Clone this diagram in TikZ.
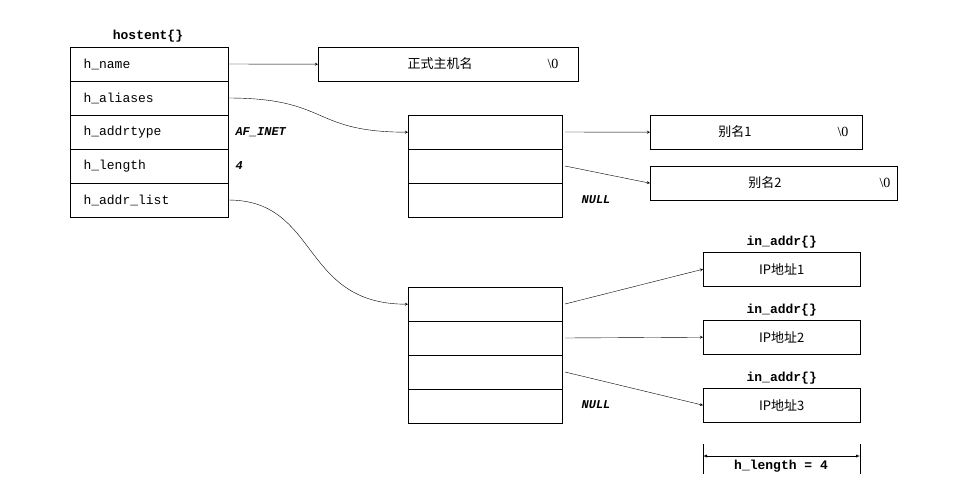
\documentclass[tikz,border=0pt]{standalone}
\usepackage{fontspec}
\setmainfont{Liberation Serif}
\setmonofont{Liberation Mono}
\newfontfamily\cjk{Noto Sans CJK SC}
\usetikzlibrary{calc,arrows}

\begin{document}
\begin{tikzpicture}[x=1pt,y=-1pt,>=stealth,
    field/.style={draw,rectangle,minimum width=158pt,minimum height=34pt,
        anchor=north west,inner sep=0pt},
    cell/.style={draw,rectangle,minimum width=154pt,minimum height=34pt,
        anchor=north west,inner sep=0pt},
    strbox/.style={draw,rectangle,minimum height=34pt,anchor=north west,inner sep=0pt},
    tt/.style={font=\ttfamily\fontsize{13}{13}\selectfont},
    ttb/.style={font=\ttfamily\bfseries\fontsize{13}{13}\selectfont},
    it/.style={font=\ttfamily\itshape\bfseries\fontsize{12}{12}\selectfont},
    cn/.style={font=\cjk\fontsize{13}{13}\selectfont}]

    \useasboundingbox (0,0) rectangle (958,496);

    % hostent structure
    \node[ttb] (Title) at (148,36) {hostent\{\}};
    \foreach \name [count=\i from 0] in {Name,Alias,Type,Len,List}
      \node[field] (\name) at (70,47+34*\i) {};
    \node[tt,anchor=west] at ([xshift=10pt]Name.west) {h\_name};
    \node[tt,anchor=west] at ([xshift=10pt]Alias.west) {h\_aliases};
    \node[tt,anchor=west] at ([xshift=10pt]Type.west) {h\_addrtype};
    \node[tt,anchor=west] at ([xshift=10pt]Len.west) {h\_length};
    \node[tt,anchor=west] at ([xshift=10pt]List.west) {h\_addr\_list};
    \node[it,anchor=west] (Inet) at (232,132) {AF\_INET};
    \node[it,anchor=west] (Four) at (232,166) {4};

    % official name
    \node[strbox,minimum width=260pt] (Official) at (318,47) {};
    \node[cn] at (440,64) {正式主机名};
    \node[font=\fontsize{14}{14}\selectfont] at (553,64) {\textbackslash0};
    \coordinate (pName) at (228,64);
    \draw[->] (pName) -- (Official.west);

    % alias pointer array
    \foreach \i in {0,1,2}
      \node[cell] (A\i) at (408,115+34*\i) {};
    \node[it] (NullA) at (596,200) {NULL};
    \coordinate (pAlias) at (228,98);
    \draw[->] (pAlias) .. controls (330,98) and (310,132) .. (A0.west);

    \node[strbox,minimum width=212pt] (AliasOne) at (650,115) {};
    \node[cn] at (735,132) {别名1};
    \node[font=\fontsize{14}{14}\selectfont] at (843,132) {\textbackslash0};
    \node[strbox,minimum width=247pt] (AliasTwo) at (650,166) {};
    \node[cn] at (765,183) {别名2};
    \node[font=\fontsize{14}{14}\selectfont] at (885,183) {\textbackslash0};
    \coordinate (pA0) at (565,132);
    \coordinate (pA1) at (565,166);
    \draw[->] (pA0) -- (AliasOne.west);
    \draw[->] (pA1) -- (AliasTwo.west);

    % address pointer array
    \foreach \i in {0,1,2,3}
      \node[cell] (B\i) at (408,287+34*\i) {};
    \node[it] (NullB) at (596,405) {NULL};
    \coordinate (pList) at (228,200);
    \draw[->] (pList) .. controls (320,200) and (300,304) .. (B0.west);

    \foreach \i/\y in {1/252,2/320,3/388} {
      \node[strbox,minimum width=157pt] (IP\i) at (703,\y) {};
      \node[cn] at (IP\i.center) {IP地址\i};
      \node[ttb,above=0pt] at (IP\i.north) {in\_addr\{\}};
      \coordinate (pB\i) at (565,270+34*\i);
      \draw[->] (pB\i) -- (IP\i.west);
    }

    % width of an address
    \coordinate (dL) at (703,444);
    \coordinate (dR) at (860,444);
    \draw (dL) -- ++(0,30);
    \draw (dR) -- ++(0,30);
    \draw[<->,>=latex] ($(dL)+(0,12)$) -- ($(dR)+(0,12)$);
    \node[ttb,fill=white,inner sep=1pt] (Dim) at (781,466) {h\_length = 4};
  \end{tikzpicture}
\end{document}
